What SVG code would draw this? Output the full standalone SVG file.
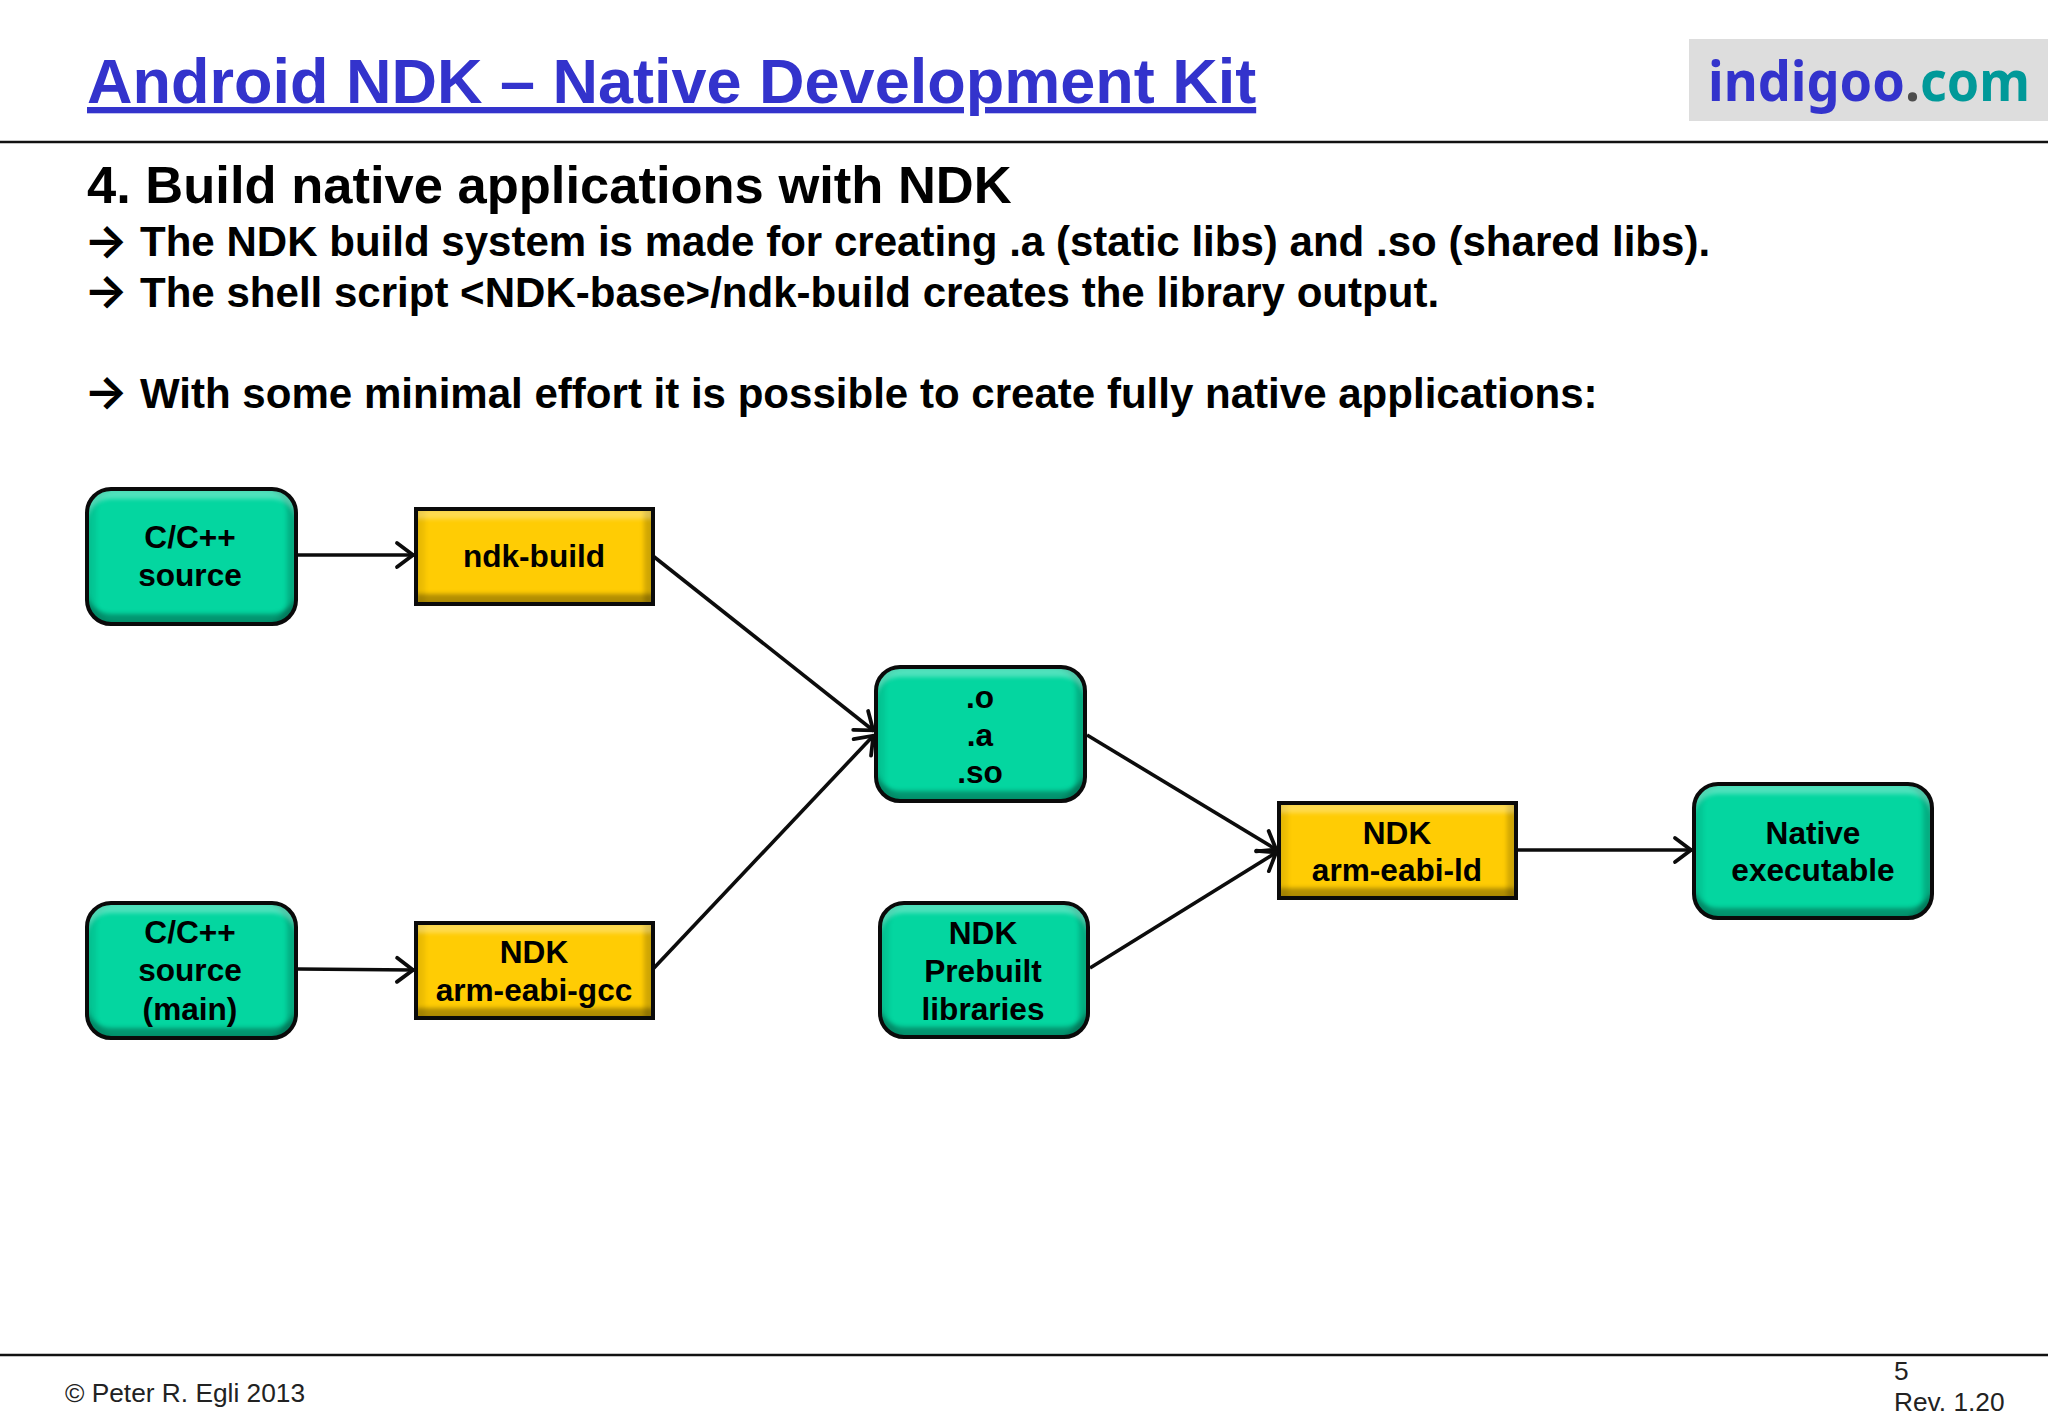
<svg xmlns="http://www.w3.org/2000/svg" width="2048" height="1418" viewBox="0 0 2048 1418">
<style>
text{font-family:"Liberation Sans",Arial,sans-serif;font-weight:700;fill:#000}
.title{font-size:63px;fill:#3333cc;text-decoration:underline}
.logo{font-family:"Noto Sans","DejaVu Sans",sans-serif;font-size:56px}
.h{font-size:52.5px}
.b{font-size:42.06px}
.ar{font-family:"Inter","DejaVu Sans",sans-serif;font-size:46px}
.f{font-size:26.3px;font-weight:400;fill:#222}
.n{font-size:31.6px;text-anchor:middle}
.rule{stroke:#111;stroke-width:2.5}
.teal{fill:#04d6a0;filter:url(#bevel)}
.gold{fill:#ffcc04;filter:url(#bevel)}
.edge{fill:none;stroke:#0a0a0a;stroke-width:4}
.con{fill:none;stroke:#0c0c0c;stroke-width:3.6;marker-end:url(#arr)}
</style>
<defs>
<marker id="arr" markerUnits="userSpaceOnUse" markerWidth="30" markerHeight="30" refX="21" refY="15" orient="auto" overflow="visible">
<path d="M4 3 L20 15 L4 27" fill="none" stroke="#0c0c0c" stroke-width="3.8" stroke-linecap="round"/>
</marker>
<filter id="bevel" x="-5%" y="-5%" width="110%" height="110%" color-interpolation-filters="sRGB">
<feGaussianBlur in="SourceAlpha" stdDeviation="2" result="b"/>
<feOffset in="b" dy="10" result="o1"/>
<feComposite in="SourceAlpha" in2="o1" operator="out" result="top"/>
<feFlood flood-color="#ffffff" flood-opacity=".3"/>
<feComposite in2="top" operator="in" result="lt"/>
<feOffset in="b" dy="-10" result="o2"/>
<feComposite in="SourceAlpha" in2="o2" operator="out" result="bot"/>
<feFlood flood-color="#000000" flood-opacity=".3"/>
<feComposite in2="bot" operator="in" result="dk"/>
<feOffset in="b" dx="9" result="o3"/>
<feComposite in="SourceAlpha" in2="o3" operator="out" result="lft"/>
<feFlood flood-color="#000000" flood-opacity=".08"/>
<feComposite in2="lft" operator="in" result="ls"/>
<feOffset in="b" dx="-9" result="o4"/>
<feComposite in="SourceAlpha" in2="o4" operator="out" result="rgt"/>
<feFlood flood-color="#000000" flood-opacity=".18"/>
<feComposite in2="rgt" operator="in" result="rs"/>
<feMerge><feMergeNode in="SourceGraphic"/><feMergeNode in="ls"/><feMergeNode in="rs"/><feMergeNode in="lt"/><feMergeNode in="dk"/></feMerge>
</filter>
</defs>
<rect width="2048" height="1418" fill="#fff"/>
<g id="header">
<text class="title" x="87" y="103">Android NDK – Native Development Kit</text>
<rect x="1689" y="39" width="359" height="82" fill="#dddddd"/>
<text class="logo" x="1708" y="101" fill="#3333cc" style="fill:#3333cc" textLength="197" lengthAdjust="spacingAndGlyphs">indigoo</text>
<text class="logo" x="1905" y="101" style="fill:#4d4d4d" textLength="15" lengthAdjust="spacingAndGlyphs">.</text>
<text class="logo" x="1920" y="101" style="fill:#009999" textLength="110" lengthAdjust="spacingAndGlyphs">com</text>
<line class="rule" x1="0" y1="142" x2="2048" y2="142"/>
</g>
<g id="body">
<text class="h" x="87" y="203">4. Build native applications with NDK</text>
<text class="ar" x="84" y="257">→</text>
<text class="b" x="140" y="256">The NDK build system is made for creating .a (static libs) and .so (shared libs).</text>
<text class="ar" x="84" y="307">→</text>
<text class="b" x="140" y="307">The shell script &lt;NDK-base&gt;/ndk-build creates the library output.</text>
<text class="ar" x="84" y="408">→</text>
<text class="b" x="140" y="408">With some minimal effort it is possible to create fully native applications:</text>
</g>
<g id="connectors">
<path class="con" d="M298 555H414"/>
<path class="con" d="M298 969L414 970"/>
<path class="con" d="M653 556L874 731"/>
<path class="con" d="M653 969L874 735"/>
<path class="con" d="M1087 735L1277 850"/>
<path class="con" d="M1090 968L1277 852"/>
<path class="con" d="M1518 850H1692"/>
</g>
<g id="n-src1"><rect class="teal" x="87" y="489" width="209" height="135" rx="24"/><rect class="edge" x="87" y="489" width="209" height="135" rx="24"/>
<text class="n" x="190" y="548">C/C++</text><text class="n" x="190" y="586">source</text></g>
<g id="n-ndkbuild"><rect class="gold" x="416" y="509" width="237" height="95"/><rect class="edge" x="416" y="509" width="237" height="95"/>
<text class="n" x="534" y="567">ndk-build</text></g>
<g id="n-objs"><rect class="teal" x="876" y="667" width="209" height="134" rx="24"/><rect class="edge" x="876" y="667" width="209" height="134" rx="24"/>
<text class="n" x="980" y="708">.o</text><text class="n" x="980" y="746">.a</text><text class="n" x="980" y="783">.so</text></g>
<g id="n-src2"><rect class="teal" x="87" y="903" width="209" height="135" rx="24"/><rect class="edge" x="87" y="903" width="209" height="135" rx="24"/>
<text class="n" x="190" y="943">C/C++</text><text class="n" x="190" y="981">source</text><text class="n" x="190" y="1020">(main)</text></g>
<g id="n-gcc"><rect class="gold" x="416" y="923" width="237" height="95"/><rect class="edge" x="416" y="923" width="237" height="95"/>
<text class="n" x="534" y="963">NDK</text><text class="n" x="534" y="1001">arm-eabi-gcc</text></g>
<g id="n-prebuilt"><rect class="teal" x="880" y="903" width="208" height="134" rx="24"/><rect class="edge" x="880" y="903" width="208" height="134" rx="24"/>
<text class="n" x="983" y="944">NDK</text><text class="n" x="983" y="982">Prebuilt</text><text class="n" x="983" y="1020">libraries</text></g>
<g id="n-ld"><rect class="gold" x="1279" y="803" width="237" height="95"/><rect class="edge" x="1279" y="803" width="237" height="95"/>
<text class="n" x="1397" y="844">NDK</text><text class="n" x="1397" y="881">arm-eabi-ld</text></g>
<g id="n-exe"><rect class="teal" x="1694" y="784" width="238" height="134" rx="24"/><rect class="edge" x="1694" y="784" width="238" height="134" rx="24"/>
<text class="n" x="1813" y="844">Native</text><text class="n" x="1813" y="881">executable</text></g>
<g id="footer">
<line class="rule" x1="0" y1="1355" x2="2048" y2="1355"/>
<text class="f" x="65" y="1402">© Peter R. Egli 2013</text>
<text class="f" x="1894" y="1380">5</text>
<text class="f" x="1894" y="1411">Rev. 1.20</text>
</g>
</svg>
